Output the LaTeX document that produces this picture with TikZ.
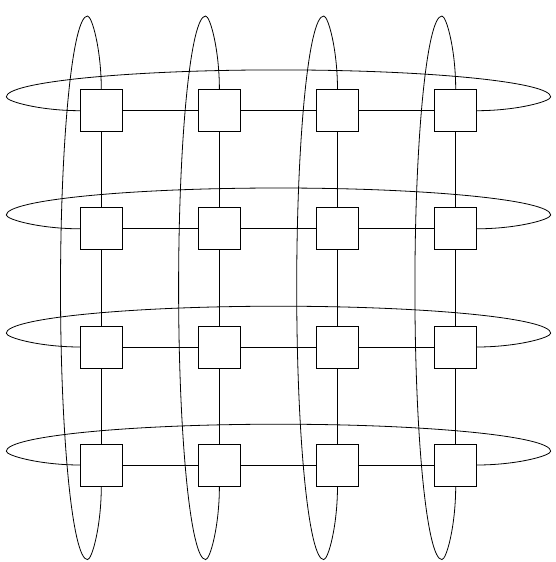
\documentclass[tikz,border=0pt]{standalone}
\begin{document}
\begin{tikzpicture}[x=1pt,y=-1pt,
  cell/.style={draw,fill=white,minimum size=42pt,inner sep=0pt,line width=0.7pt},
  wire/.style={line width=0.7pt},
  loop/.style={line width=0.8pt}]
\useasboundingbox (0,0) rectangle (555,562);
\def\xs{{101.3,219.4,337.5,455.7}}
\def\ys{{110.7,228.8,347.0,465.0}}
% loops (drawn first, nodes cover them)
\foreach \i in {0,1,2,3}{
  \pgfmathsetmacro{\cy}{\ys[\i]}
  \pgfmathsetmacro{\ty}{\cy-13.8}
  \pgfmathsetmacro{\my}{\cy-40.8}
  % horizontal loop around row i
  \draw[loop] (101.3,\cy) -- (80.3,\cy)
    .. controls (40,\cy) and (6.3,\ty+4.5) .. (6.3,\ty)
    .. controls (6.3,\ty-14.9) and (128.2,\my) .. (278.5,\my)
    .. controls (428.8,\my) and (550.7,\ty-14.9) .. (550.7,\ty)
    .. controls (550.7,\ty+4.5) and (517,\cy) .. (476.7,\cy) -- (455.7,\cy);
  \pgfmathsetmacro{\cx}{\xs[\i]}
  \pgfmathsetmacro{\tx}{\cx-13.8}
  \pgfmathsetmacro{\mx}{\cx-40.8}
  % vertical loop around column i
  \draw[loop] (\cx,110.7) -- (\cx,89.7)
    .. controls (\cx,49.4) and (\tx+4.5,16) .. (\tx,16)
    .. controls (\tx-14.9,16) and (\mx,137.7) .. (\mx,287.8)
    .. controls (\mx,437.9) and (\tx-14.9,559.6) .. (\tx,559.6)
    .. controls (\tx+4.5,559.6) and (\cx,526.3) .. (\cx,486) -- (\cx,465);
}
% nodes
\foreach \i in {0,1,2,3}{
  \foreach \j in {0,1,2,3}{
    \pgfmathsetmacro{\px}{\xs[\j]}
    \pgfmathsetmacro{\py}{\ys[\i]}
    \node[cell] (n\i\j) at (\px,\py) {};
  }
}
% wires
\foreach \i in {0,1,2,3}{
  \draw[wire] (n\i0) -- (n\i1) (n\i1) -- (n\i2) (n\i2) -- (n\i3);
  \draw[wire] (n0\i) -- (n1\i) (n1\i) -- (n2\i) (n2\i) -- (n3\i);
}
\end{tikzpicture}
\end{document}
